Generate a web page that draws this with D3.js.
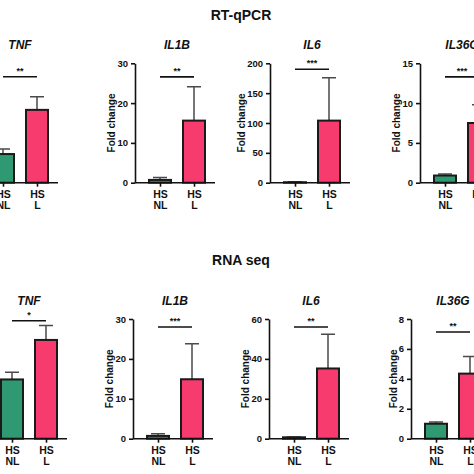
<!DOCTYPE html>
<html lang="en">
<head>
    <meta charset="UTF-8">
    <title>RT-qPCR and RNA seq</title>
    <script src="https://cdn.jsdelivr.net/npm/d3@7"></script>
    <style>
        body { margin: 0; background: #fff; }
        text { font-family: "Liberation Sans", Arial, sans-serif; font-weight: bold; fill: #111; }
        .axis path, .axis line { stroke: #111; stroke-width: 1.6; }
        .axis text { font-size: 9.5px; }
    </style>
</head>
<body>
<script>
// data
var sections = ["RT-qPCR", "RNA seq"];
var genes = ["TNF", "IL1B", "IL6", "IL36G"];
var groupTop = ["HS", "HS"];
var groupBottom = ["NL", "L"];
var groupColors = ["#2f9a72", "#f73b6e"];

// RT-qPCR fold change: [HS NL, HS L]
var qpcrMean = [[0.96, 2.44], [0.7, 15.6], [0.8, 104], [0.9, 7.5]];
var qpcrSd = [[0.17, 0.44], [0.6, 8.5], [0.7, 72], [0.2, 2.3]];
var qpcrMax = [4, 30, 200, 15];
var qpcrStep = [1, 10, 50, 5];
var qpcrSig = ["**", "**", "***", "***"];
var qpcrSigAt = [3.55, 26.6, 190, 13.3];

// RNA seq fold change
var rnaMean = [[0.99, 1.65], [0.7, 14.9], [0.7, 35.2], [1.0, 4.35]];
var rnaSd = [[0.12, 0.24], [0.55, 8.9], [0.2, 17.1], [0.12, 1.15]];
var rnaMax = [2, 30, 60, 8];
var rnaStep = [0.5, 10, 20, 2];
var rnaSig = ["*", "***", "**", "**"];
var rnaSigAt = [1.97, 28, 56, 7.13];

var rows = [
    { mean: qpcrMean, sd: qpcrSd, max: qpcrMax, step: qpcrStep, sig: qpcrSig, sigAt: qpcrSigAt,
      top: 63.3, bottom: 182.7, titleY: 20, axisX: [-22, 135, 270, 420] },
    { mean: rnaMean, sd: rnaSd, max: rnaMax, step: rnaStep, sig: rnaSig, sigAt: rnaSigAt,
      top: 319, bottom: 438.7, titleY: 265, axisX: [-13, 133, 269, 411] }
];

var svg = d3.select("body").append("svg")
    .attr("width", 474)
    .attr("height", 474);

rows.forEach(function(row, r) {
    svg.append("text")
        .attr("x", 241)
        .attr("y", row.titleY)
        .attr("text-anchor", "middle")
        .style("font-size", "14px")
        .text(sections[r]);

    genes.forEach(function(gene, i) {
        var ax = row.axisX[i];
        var g = svg.append("g");

        var y = d3.scaleLinear().domain([0, row.max[i]]).range([row.bottom, row.top]);
        var x = d3.scalePoint().domain([0, 1]).range([ax + 25, ax + 59]);
        var barW = 22;

        g.append("text")
            .attr("x", ax + 42)
            .attr("y", row.top - 14)
            .attr("text-anchor", "middle")
            .style("font-size", "12px")
            .style("font-style", "italic")
            .text(gene);

        var bars = row.mean[i].map(function(m, k) {
            return { k: k, mean: m, sd: row.sd[i][k] };
        });

        // error bars (upper only)
        g.selectAll(".err").data(bars).enter()
            .append("path")
            .attr("d", function(d) {
                var cx = x(d.k), yt = y(d.mean + d.sd);
                return "M" + cx + "," + y(d.mean) + "V" + yt + "M" + (cx - 7) + "," + yt + "H" + (cx + 7);
            })
            .style("fill", "none")
            .style("stroke", "#4a4a4a")
            .style("stroke-width", 1.5);

        g.selectAll(".bar").data(bars).enter()
            .append("rect")
            .attr("x", function(d) { return x(d.k) - barW / 2; })
            .attr("y", function(d) { return y(d.mean); })
            .attr("width", barW)
            .attr("height", function(d) { return y(0) - y(d.mean); })
            .style("fill", function(d) { return groupColors[d.k]; })
            .style("stroke", "#1a1a1a")
            .style("stroke-width", 2);

        // y axis
        var ticks = d3.range(0, row.max[i] + row.step[i] / 2, row.step[i]);
        g.append("g").attr("class", "axis")
            .attr("transform", "translate(" + ax + ",0)")
            .call(d3.axisLeft(y).tickValues(ticks).tickSize(4).tickSizeOuter(0).tickFormat(d3.format("~g")));

        // x axis baseline + ticks
        g.append("line").attr("class", "axis")
            .attr("x1", ax).attr("x2", ax + 80)
            .attr("y1", y(0)).attr("y2", y(0))
            .style("stroke", "#111").style("stroke-width", 1.6);
        var xa = g.append("g").attr("class", "axis")
            .attr("transform", "translate(0," + y(0) + ")")
            .call(d3.axisBottom(x).tickSize(4).tickFormat(""));
        xa.select(".domain").remove();
        xa.selectAll(".tick").append("text")
            .attr("y", 15.5)
            .style("font-size", "10.5px")
            .text(function(d) { return groupTop[d]; });
        xa.selectAll(".tick").append("text")
            .attr("y", 26.5)
            .style("font-size", "10.5px")
            .text(function(d) { return groupBottom[d]; });

        // y label
        var digits = d3.max(ticks, function(t) { return d3.format("~g")(t).length; });
        var lx = ax - (digits * 5.5 + 9);
        g.append("text")
            .attr("transform", "translate(" + lx + "," + ((row.top + row.bottom) / 2) + ") rotate(-90)")
            .attr("text-anchor", "middle")
            .style("font-size", "10px")
            .text("Fold change");

        // significance
        var sy = y(row.sigAt[i]);
        g.append("line")
            .attr("x1", x(0)).attr("x2", x(1))
            .attr("y1", sy).attr("y2", sy)
            .style("stroke", "#111").style("stroke-width", 1.6);
        g.append("text")
            .attr("x", (x(0) + x(1)) / 2)
            .attr("y", sy - 3)
            .attr("text-anchor", "middle")
            .style("font-size", "9px")
            .text(row.sig[i]);
    });
});

// the figure is cropped on the left: drop labels that fall wholly outside
svg.selectAll("text").each(function() {
    if (this.getBoundingClientRect().right <= 0) d3.select(this).remove();
});
</script>
</body>
</html>
